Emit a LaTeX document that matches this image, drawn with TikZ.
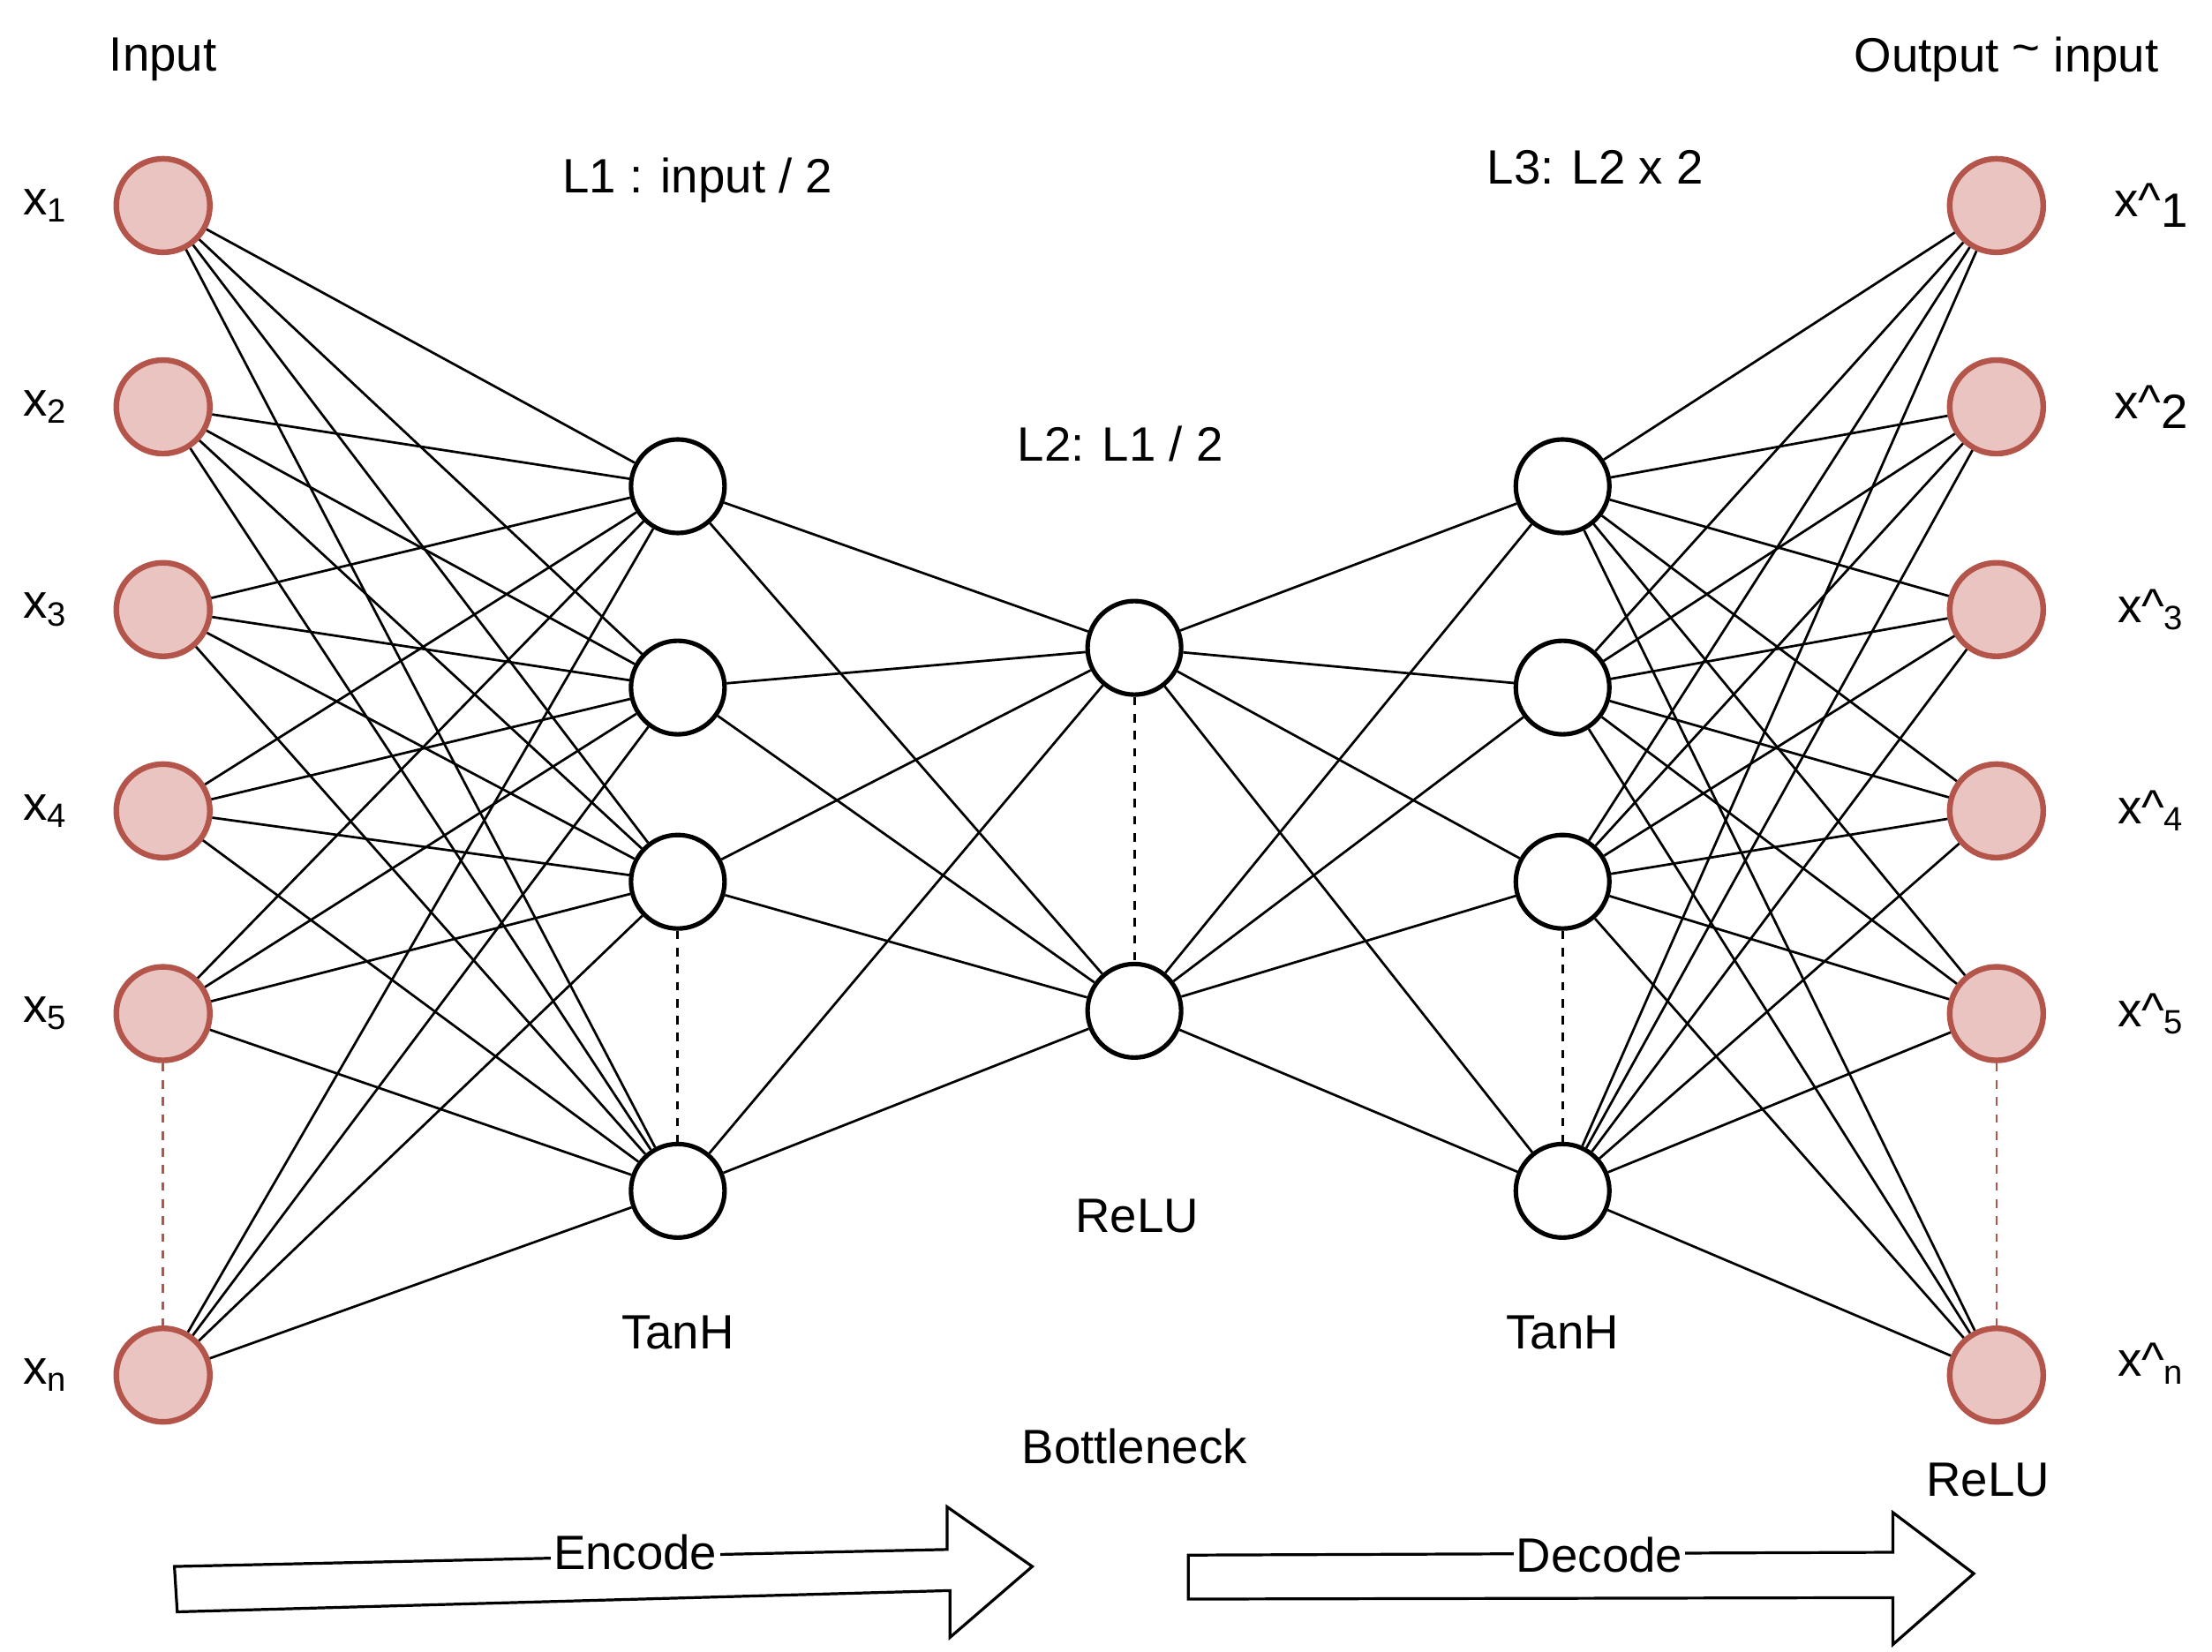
\documentclass[tikz,border=0pt]{standalone}
\usepackage{fontspec}
\setmainfont{Liberation Sans}
\begin{document}
\begin{tikzpicture}[x=0.5pt,y=-0.5pt,
  inp/.style={circle,draw={rgb,255:red,180;green,85;blue,75},fill={rgb,255:red,234;green,196;blue,192},line width=2pt,minimum size=33pt,inner sep=0pt},
  hid/.style={circle,draw=black,fill=white,line width=1.6pt,minimum size=33pt,inner sep=0pt},
  lab/.style={font=\fontsize{17}{20}\selectfont},
  conn/.style={line width=0.85pt},
  rdash/.style={dashed,draw={rgb,255:red,180;green,85;blue,75},line width=0.8pt},
  bdash/.style={dashed,line width=0.9pt},
  blk/.style={draw=black,line width=1pt,fill=white}]
\useasboundingbox (0,0) rectangle (1560,1165);
\foreach \n/\y in {1/145,2/287,3/430,4/572,5/715,6/970}{
  \node[inp] (i\n) at (115,\y) {};
  \node[inp] (o\n) at (1408,\y) {};
}
\foreach \n/\y in {1/343,2/485,3/622,4/840}{
  \node[hid] (a\n) at (478,\y) {};
  \node[hid] (c\n) at (1102,\y) {};
}
\node[hid] (b1) at (800,457) {};
\node[hid] (b2) at (800,713) {};
\foreach \i in {1,...,6}{\foreach \j in {1,...,4}{
  \draw[conn] (i\i) -- (a\j); \draw[conn] (c\j) -- (o\i);}}
\foreach \j in {1,...,4}{\foreach \k in {1,2}{
  \draw[conn] (a\j) -- (b\k); \draw[conn] (b\k) -- (c\j);}}
\draw[rdash] (i5) -- (i6);
\draw[rdash] (o5) -- (o6);
\draw[bdash] (a3) -- (a4);
\draw[bdash] (c3) -- (c4);
\draw[bdash] (b1) -- (b2);
\node[lab] (tin) at (115,42) {Input};
\node[lab] (tout) at (1415,42) {Output \raisebox{0.3ex}{\textasciitilde} input};
\node[lab] (tl1) at (492,127) {L1 : input / 2};
\node[lab] (tl2) at (790,313) {L2: L1 / 2};
\node[lab] (tl3) at (1125,118) {L3: L2 x 2};
\node[lab] (trelu) at (802,858) {ReLU};
\node[lab] (tt1) at (478,940) {TanH};
\node[lab] (tt2) at (1102,940) {TanH};
\node[lab] (tbn) at (800,1020) {Bottleneck};
\node[lab] (trelu2) at (1402,1044) {ReLU};
\foreach \n/\y/\s in {1/145/1,2/287/2,3/430/3,4/572/4,5/715/5,6/970/n}{
  \node[lab] (xl\n) at (32,\y) {x\textsubscript{\s}};
}
\node[lab] (ol1) at (1517,145) {x\^{}\raisebox{-0.4ex}{1}};
\node[lab] (ol2) at (1517,287) {x\^{}\raisebox{-0.4ex}{2}};
\node[lab] (ol3) at (1517,430) {x\^{}\textsubscript{3}};
\node[lab] (ol4) at (1517,572) {x\^{}\textsubscript{4}};
\node[lab] (ol5) at (1517,715) {x\^{}\textsubscript{5}};
\node[lab] (ol6) at (1517,962) {x\^{}\textsubscript{n}};
\draw[blk] (123,1105) -- (668,1093) -- (668,1063) -- (728,1105) -- (670,1155) -- (670,1122) -- (125,1137) -- cycle;
\draw[blk] (838,1097) -- (1335,1095) -- (1335,1067) -- (1392,1110) -- (1335,1160) -- (1335,1127) -- (838,1128) -- cycle;
\node[lab,fill=white,inner sep=1pt] (enc) at (448,1095) {Encode};
\node[lab,fill=white,inner sep=1pt] (dec) at (1128,1097) {Decode};
\end{tikzpicture}
\end{document}
